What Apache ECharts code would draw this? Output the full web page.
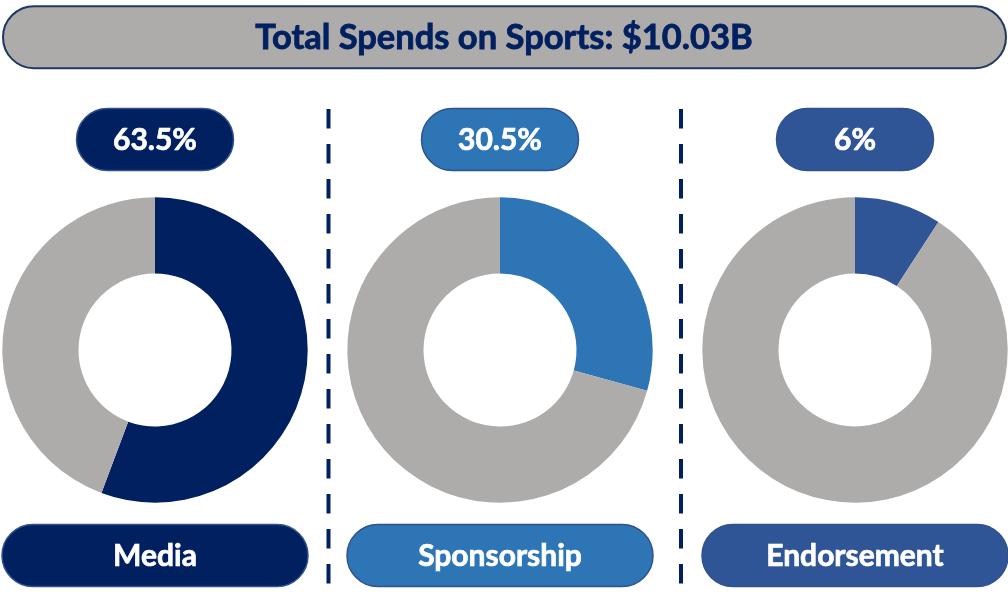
<!DOCTYPE html>
<html>
<head>
<meta charset="utf-8">
<script src="https://cdn.jsdelivr.net/npm/echarts@6/dist/echarts.min.js"></script>
<style>
html,body{margin:0;padding:0;background:#fff;}
#chart{width:1008px;height:595px;}
</style>
</head>
<body>
<div id="chart"></div>
<script>
// ---- data ----
var titleText = 'Total Spends on Sports: $10.03B';
var categories = ['Media', 'Sponsorship', 'Endorsement'];
var pctLabels = ['63.5%', '30.5%', '6%'];
var sliceShare = [55.7, 29.3, 9.2];     // coloured slice as drawn
var restShare = [44.3, 70.7, 90.8];     // grey remainder as drawn

// ---- styles ----
var colors = ['#002060', '#2E75B6', '#2F5597'];
var grey = '#AEABAB';
var navy = '#002060';
var font = 'Lato';
var centersX = [155, 500, 855];
var centerY = 350;

var chart = echarts.init(document.getElementById('chart'), null, {renderer: 'canvas'});

var series = categories.map(function (c, i) {
  return {
    type: 'pie',
    name: c,
    center: [centersX[i], centerY],
    radius: [76.5, 152.7],
    startAngle: 90,
    clockwise: true,
    silent: true,
    label: {show: false},
    labelLine: {show: false},
    emphasis: {disabled: true},
    itemStyle: {borderWidth: 0},
    data: [
      {name: c, value: sliceShare[i], itemStyle: {color: colors[i]}},
      {name: 'Other', value: restShare[i], itemStyle: {color: grey}}
    ]
  };
});

function pill(cx, cy, w, h, fill, stroke, lw) {
  return {
    type: 'rect',
    shape: {x: cx - w / 2, y: cy - h / 2, width: w, height: h, r: h / 2},
    style: {fill: fill, stroke: stroke, lineWidth: lw},
    silent: true
  };
}
function txt(cx, cy, s, size, color, sw) {
  return {
    type: 'text',
    x: cx, y: cy,
    style: {text: s, fill: color, stroke: color, lineWidth: sw, font: 'bold ' + size + 'px ' + font, textAlign: 'center', textVerticalAlign: 'middle'},
    silent: true,
    z: 10
  };
}

var graphics = [];
// title
graphics.push(pill(504.5, 37.2, 1003, 62, grey, '#1F3864', 2));
graphics.push(txt(504, 38, titleText, 34.5, navy, 0.8));
// dividers
[328.5, 681].forEach(function (x) {
  graphics.push({
    type: 'line',
    shape: {x1: x, y1: 109, x2: x, y2: 585},
    style: {stroke: navy, lineWidth: 4, lineDash: [19.5, 15.5]},
    silent: true
  });
});
categories.forEach(function (c, i) {
  graphics.push(pill(centersX[i], 139.5, 157, 62, colors[i], '#2F528F', 1.5));
  graphics.push(txt(centersX[i], 140.5, pctLabels[i], 30, '#FFFFFF', 0.7));
  graphics.push(pill(centersX[i], 555.5, 306, 62, colors[i], '#2F528F', 1.5));
  graphics.push(txt(centersX[i], 556.5, c, 30, '#FFFFFF', 0.7));
});

chart.setOption({
  animation: false,
  backgroundColor: '#FFFFFF',
  series: series,
  graphic: graphics
});
</script>
</body>
</html>
